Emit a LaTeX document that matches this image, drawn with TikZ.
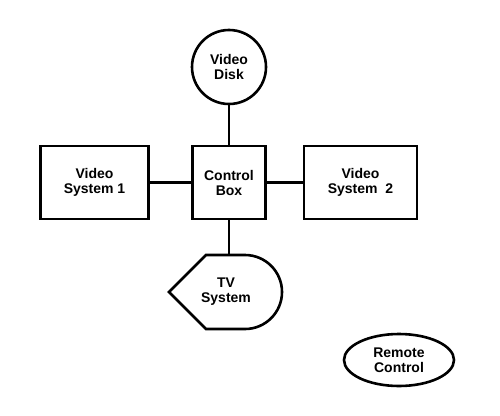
\documentclass[tikz,border=0pt]{standalone}
\usepackage{fontspec}
\setmainfont{Liberation Sans}
\usetikzlibrary{shapes.geometric}
\begin{document}
\begin{tikzpicture}[x=1pt,y=-1pt,
  lbl/.style={font=\fontsize{14}{15}\selectfont\bfseries, align=center, inner sep=0pt},
  boxn/.style={lbl, draw, line width=2.6pt, minimum height=73pt},
  conn/.style={line width=2.5pt}]
\useasboundingbox (0,0) rectangle (500,415);
\node[lbl, draw, circle, line width=2.6pt, minimum size=74pt] (disk) at (229,67) {Video\\Disk};
\node[boxn, minimum width=108pt] (vs1) at (94.5,182.5) {Video\\System 1};
\node[boxn, minimum width=73pt] (cb) at (229,182.5) {Control\\Box};
\node[boxn, minimum width=113pt] (vs2) at (360.5,182.5) {Video\\System\ \ 2};
% TV system display shape
\draw[line width=2.6pt, line join=miter] (169,292) -- (206,255) -- (245,255)
  arc[start angle=-90, end angle=90, radius=37] -- (206,329) -- cycle;
\coordinate (tvtop) at (229,255);
\node[lbl] (tv) at (226,292) {TV\\System};
\node[lbl, draw, ellipse, line width=2.6pt, minimum width=110pt, minimum height=52pt] (rc) at (399,360) {Remote\\Control};
\draw[conn] (disk.south) -- (cb.north);
\draw[conn] (vs1.east) -- (cb.west);
\draw[conn] (cb.east) -- (vs2.west);
\draw[conn] (cb.south) -- (tvtop);
\end{tikzpicture}
\end{document}
